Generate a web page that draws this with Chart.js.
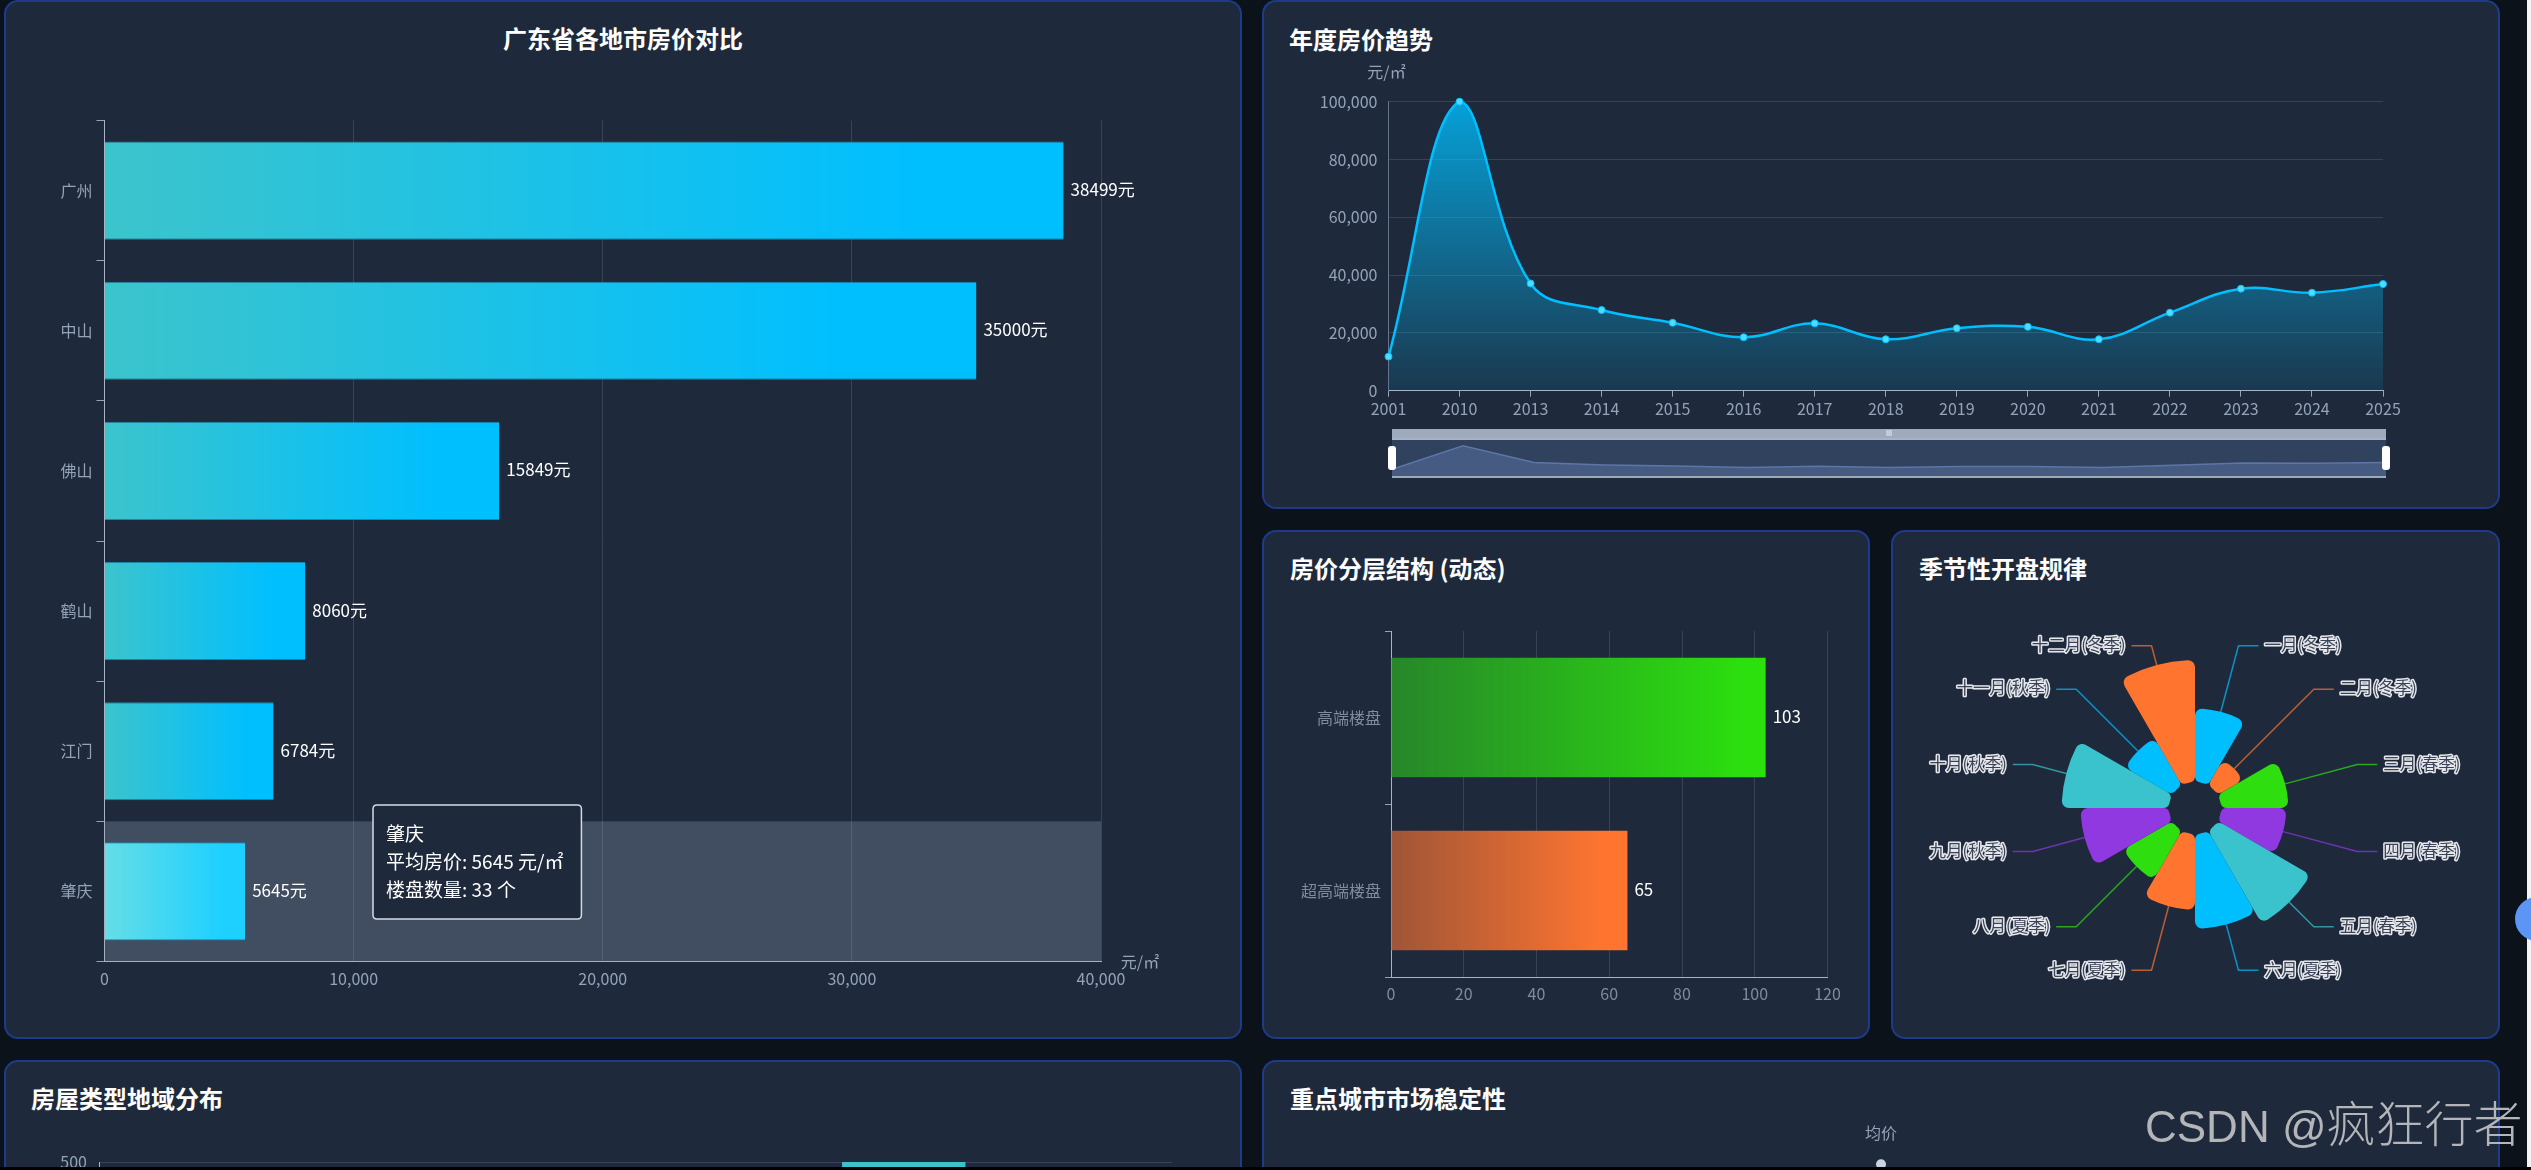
<!DOCTYPE html>
<html lang="zh-CN">
<head>
<meta charset="utf-8">
<title>广东省房价看板</title>
<script src="https://cdn.jsdelivr.net/npm/chart.js@4/dist/chart.umd.js"></script>
<style>
    html, body { margin: 0; width: 2531px; height: 1170px; overflow: hidden; background: #0b1219; }
    body { position: relative; font-family: "Noto Sans CJK SC", sans-serif; }
    .panel { position: absolute; box-sizing: border-box; background: #1e293b; border: 2px solid #1e3a8a; border-radius: 14px; }
    .title { position: absolute; color: #fff; font-size: 24px; font-weight: 700; line-height: 32px; white-space: nowrap; }
    canvas { position: absolute; }
    .slider-part { position: absolute; }
    .mark { position: absolute; }
</style>
</head>
<body>
<div class="panel" style="left:4px;top:0;width:1238px;height:1039px"></div>
<div class="panel" style="left:1262px;top:0;width:1238px;height:509px"></div>
<div class="panel" style="left:1262px;top:530px;width:608px;height:509px"></div>
<div class="panel" style="left:1891px;top:530px;width:609px;height:509px"></div>
<div class="panel" style="left:4px;top:1060px;width:1238px;height:160px"></div>
<div class="panel" style="left:1262px;top:1060px;width:1238px;height:160px"></div>

<div class="title" style="left:4px;width:1238px;text-align:center;top:22px">广东省各地市房价对比</div>
<div class="title" style="left:1289px;top:23px">年度房价趋势</div>
<div class="title" style="left:1290px;top:552px">房价分层结构 (动态)</div>
<div class="title" style="left:1919px;top:552px">季节性开盘规律</div>
<div class="title" style="left:31px;top:1082px">房屋类型地域分布</div>
<div class="title" style="left:1290px;top:1082px">重点城市市场稳定性</div>

<canvas id="cityChart" style="left:4px;top:0" width="1238" height="1039"></canvas>
<canvas id="trendChart" style="left:1262px;top:0" width="1238" height="429"></canvas>
<canvas id="tierChart" style="left:1262px;top:530px" width="608" height="509"></canvas>
<canvas id="seasonChart" style="left:1891px;top:530px" width="609" height="509"></canvas>
<canvas id="typeChart" style="left:4px;top:1060px" width="1238" height="400"></canvas>
<canvas id="stabilityChart" style="left:1262px;top:1063px" width="1238" height="500"></canvas>

<!-- data zoom slider frame -->
<div class="slider-part" style="left:1392px;top:429px;width:994px;height:10px;background:#a0aabd"></div>
<div class="slider-part" style="left:1392px;top:438px;width:994px;height:40px;box-sizing:border-box;background:#31425f;border-top:2px solid #aab3c5;border-bottom:2px solid #a0aabd"></div>
<canvas id="sliderChart" style="left:1392px;top:440px" width="994" height="36"></canvas>
<div class="slider-part" style="left:1388px;top:446px;width:8px;height:24px;border-radius:3px;background:#fff"></div>
<div class="slider-part" style="left:2382px;top:446px;width:8px;height:24px;border-radius:3px;background:#fff"></div>
<div class="slider-part" style="left:1879px;top:429px;width:20px;height:9px;color:#fff;font-size:7px;line-height:9px;text-align:center">III</div>

<!-- page furniture from the screenshot -->
<div class="mark" style="left:2527px;top:0;width:4px;height:1170px;background:#f4f4f4"></div>
<div class="mark" style="left:2515px;top:897px;width:44px;height:44px;border-radius:50%;background:#5b96f7"></div>
<div class="mark" style="left:0;top:1167px;width:2531px;height:3px;background:#000"></div>
<div class="mark" style="left:2145px;top:1086px;white-space:nowrap;color:#b3b5b9;line-height:70px;font-size:44px;font-family:'Liberation Sans',sans-serif">CSDN @<span style="font-size:49px;font-family:'Noto Sans CJK SC',sans-serif;font-weight:300">疯狂行者</span></div>

<script>
// Chart values
const cityNames = ['广州', '中山', '佛山', '鹤山', '江门', '肇庆'];
const cityPrices = [38499, 35000, 15849, 8060, 6784, 5645];
const cityTicks = [0, 10000, 20000, 30000, 40000];
const highlightCity = 5;
const highlightProjects = 33;

const trendYears = ['2001', '2010', '2013', '2014', '2015', '2016', '2017', '2018', '2019', '2020', '2021', '2022', '2023', '2024', '2025'];
const trendPrices = [11800, 100000, 37100, 27900, 23500, 18500, 23300, 17800, 21600, 22100, 17800, 27000, 35300, 33900, 36900];

const tierNames = ['高端楼盘', '超高端楼盘'];
const tierCounts = [103, 65];

const monthNames = ['一月(冬季)', '二月(冬季)', '三月(春季)', '四月(春季)', '五月(春季)', '六月(夏季)', '七月(夏季)', '八月(夏季)', '九月(秋季)', '十月(秋季)', '十一月(秋季)', '十二月(冬季)'];
const monthCounts = [35, 14, 32, 31, 51, 45, 36, 27, 42, 51, 26, 58];
const monthColors = ['#00bfff', '#ff7530', '#2ede0e', '#9039e0', '#3bc3cd', '#00bfff', '#ff7530', '#2ede0e', '#9039e0', '#3bc3cd', '#00bfff', '#ff7530'];

// Only the top of these two charts is inside the screenshot
const typeCities = ['广州', '中山', '佛山', '鹤山', '江门', '肇庆'];
const typeCounts = [null, null, null, null, 500, null];
const stabilityAxes = ['均价', '', '', '', ''];
const stabilityValues = [100, null, null, null, null];

const tickColor = '#94a3b8';
const gridColor = 'rgba(148, 163, 184, 0.22)';

Chart.defaults.font.family = '"Noto Sans CJK SC", sans-serif';
Chart.defaults.font.size = 16;
Chart.defaults.color = tickColor;
Chart.defaults.animation = false;
Chart.defaults.responsive = false;
Chart.defaults.events = [];
Chart.defaults.locale = 'en-US';
Chart.defaults.plugins.legend.display = false;
Chart.defaults.plugins.tooltip.enabled = false;

Chart.Tooltip.positioners.fixedBox = function () {
    return { x: 373, y: 805 };
};

// Per bar gradient running from the axis to the bar end
function barGradient(context, colorFrom, colorTo, stopAt) {
    const chart = context.chart;
    const x0 = chart.scales.x.getPixelForValue(0);
    const x1 = chart.scales.x.getPixelForValue(context.parsed ? context.parsed.x : 0);
    if (!Number.isFinite(x0) || !Number.isFinite(x1) || x0 === x1) {
        return colorTo;
    }
    const gradient = chart.ctx.createLinearGradient(x0, 0, x1, 0);
    gradient.addColorStop(0, colorFrom);
    gradient.addColorStop(stopAt, colorTo);
    gradient.addColorStop(1, colorTo);
    return gradient;
}

// Write value + suffix to the right of every bar
const barLabels = {
    id: 'barLabels',
    afterDatasetsDraw(chart, args, options) {
        const ctx = chart.ctx;
        const values = chart.data.datasets[0].data;
        ctx.save();
        ctx.fillStyle = '#fff';
        ctx.font = '17px "Noto Sans CJK SC", sans-serif';
        ctx.textBaseline = 'middle';
        chart.getDatasetMeta(0).data.forEach((bar, i) => {
            ctx.fillText(values[i] + options.suffix, bar.x + 7, bar.y - 1);
        });
        ctx.restore();
    }
};

// Unit text next to an axis end
const axisName = {
    id: 'axisName',
    afterDraw(chart, args, options) {
        const ctx = chart.ctx;
        ctx.save();
        ctx.fillStyle = tickColor;
        ctx.font = '16px "Noto Sans CJK SC", sans-serif';
        ctx.textAlign = 'center';
        ctx.textBaseline = 'middle';
        ctx.fillText(options.text, chart.chartArea[options.side] + options.dx, chart.chartArea[options.edge] + options.dy);
        ctx.restore();
    }
};

// Shadow band behind the hovered category
const hoverBand = {
    id: 'hoverBand',
    beforeDatasetsDraw(chart) {
        const y = chart.scales.y;
        const band = (y.bottom - y.top) / cityNames.length;
        const center = y.getPixelForValue(highlightCity);
        chart.ctx.save();
        chart.ctx.fillStyle = 'rgba(148, 163, 184, 0.3)';
        chart.ctx.fillRect(y.right, center - band / 2, chart.chartArea.width, band);
        chart.ctx.restore();
    }
};

// Open a hole in the polar area, the library always starts arcs at radius 0
const roseHole = {
    id: 'roseHole',
    beforeDatasetsDraw(chart, args, options) {
        chart.getDatasetMeta(0).data.forEach(arc => {
            arc.innerRadius = options.radius;
        });
    }
};

// Leader lines and month labels around the rose
const roseLabels = {
    id: 'roseLabels',
    afterDatasetsDraw(chart, args, options) {
        const ctx = chart.ctx;
        ctx.save();
        ctx.font = '16.5px "Noto Sans CJK SC", sans-serif';
        ctx.textBaseline = 'middle';
        ctx.lineJoin = 'round';
        chart.getDatasetMeta(0).data.forEach((arc, i) => {
            const mid = (arc.startAngle + arc.endAngle) / 2;
            const cos = Math.cos(mid);
            const sin = Math.sin(mid);
            const side = cos >= 0 ? 1 : -1;
            const elbowX = arc.x + options.elbow * cos;
            const elbowY = arc.y + options.elbow * sin;

            ctx.beginPath();
            ctx.moveTo(arc.x + arc.outerRadius * cos, arc.y + arc.outerRadius * sin);
            ctx.lineTo(elbowX, elbowY);
            ctx.lineTo(elbowX + side * 20, elbowY);
            ctx.strokeStyle = monthColors[i];
            ctx.globalAlpha = 0.7;
            ctx.lineWidth = 1.5;
            ctx.stroke();
            ctx.globalAlpha = 1;

            ctx.textAlign = side > 0 ? 'left' : 'right';
            ctx.strokeStyle = '#e6e8ec';
            ctx.lineWidth = 3;
            ctx.strokeText(monthNames[i], elbowX + side * 26, elbowY - 1);
            ctx.fillStyle = '#3b4456';
            ctx.fillText(monthNames[i], elbowX + side * 26, elbowY - 1);
        });
        ctx.restore();
    }
};

// Plot area in canvas pixels, axes get a fixed size so it lands on the same place
function plotBox(canvasHeight, left, bottom) {
    return {
        yFit: scale => { scale.width = left; },
        xFit: scale => { scale.height = canvasHeight - bottom; }
    };
}

// Gauge of prices per city
function createCityChart() {
    const box = plotBox(1039, 100.5, 961.5);
    const chart = new Chart(document.getElementById('cityChart'), {
        type: 'bar',
        data: {
            labels: cityNames,
            datasets: [{
                data: cityPrices,
                categoryPercentage: 0.7,
                barPercentage: 1,
                borderWidth: { top: 1, bottom: 1 },
                borderColor: '#1c87ab',
                backgroundColor: context => context.dataIndex === highlightCity
                    ? barGradient(context, '#66dde6', '#1dd0ff', 0.85)
                    : barGradient(context, '#3cc4cc', '#00bfff', 0.85)
            }]
        },
        options: {
            indexAxis: 'y',
            layout: { padding: { top: 120.5, right: 141 } },
            scales: {
                x: {
                    min: 0,
                    max: 40000,
                    afterFit: box.xFit,
                    afterBuildTicks: scale => { scale.ticks = cityTicks.map(value => ({ value })); },
                    grid: { color: gridColor, drawTicks: false },
                    border: { color: '#a9b4c4' },
                    ticks: { padding: 8 }
                },
                y: {
                    afterFit: box.yFit,
                    grid: { drawOnChartArea: false, tickColor: tickColor, tickLength: 8 },
                    border: { color: '#a9b4c4' },
                    ticks: { padding: 4 }
                }
            },
            plugins: {
                barLabels: { suffix: '元' },
                axisName: { text: '元/㎡', side: 'right', edge: 'bottom', dx: 39, dy: 0 },
                tooltip: {
                    position: 'fixedBox',
                    xAlign: 'left',
                    yAlign: 'top',
                    caretSize: 0,
                    caretPadding: 0,
                    displayColors: false,
                    backgroundColor: '#1e293b',
                    borderColor: '#d5dbe4',
                    borderWidth: 1.5,
                    cornerRadius: 4,
                    padding: { top: 15, bottom: 15, left: 13, right: 18 },
                    titleMarginBottom: 0,
                    bodySpacing: 0,
                    titleColor: '#fff',
                    bodyColor: '#fff',
                    titleFont: { size: 19, weight: 'normal', lineHeight: 1.474 },
                    bodyFont: { size: 19, lineHeight: 1.474 },
                    callbacks: {
                        label: item => `平均房价: ${item.raw} 元/㎡`,
                        afterLabel: () => `楼盘数量: ${highlightProjects} 个`
                    }
                }
            }
        },
        plugins: [hoverBand, barLabels, axisName]
    });

    chart.options.plugins.tooltip.enabled = true;
    chart.update();
    chart.tooltip.setActiveElements([{ datasetIndex: 0, index: highlightCity }], { x: 0, y: 0 });
    chart.render();
}

// Yearly trend line
function createTrendChart() {
    const box = plotBox(429, 126.5, 390.7);
    new Chart(document.getElementById('trendChart'), {
        type: 'line',
        data: {
            labels: trendYears,
            datasets: [{
                data: trendPrices,
                borderColor: '#00bfff',
                borderWidth: 2.5,
                tension: 0.4,
                clip: false,
                pointRadius: 3.5,
                pointBackgroundColor: '#4fdcff',
                pointBorderColor: '#00bfff',
                pointBorderWidth: 1,
                fill: 'origin',
                backgroundColor: context => {
                    const area = context.chart.chartArea;
                    if (!area) {
                        return 'rgba(0, 191, 255, 0.3)';
                    }
                    const gradient = context.chart.ctx.createLinearGradient(0, area.top, 0, area.bottom);
                    gradient.addColorStop(0, 'rgba(0, 191, 255, 0.8)');
                    gradient.addColorStop(1, 'rgba(0, 191, 255, 0.1)');
                    return gradient;
                }
            }]
        },
        options: {
            layout: { padding: { top: 101.7, right: 117 } },
            scales: {
                x: {
                    afterFit: box.xFit,
                    grid: { drawOnChartArea: false, tickColor: tickColor, tickLength: 6 },
                    border: { color: '#a9b4c4' },
                    ticks: { padding: 3, autoSkip: false, maxRotation: 0 }
                },
                y: {
                    min: 0,
                    max: 100000,
                    afterFit: box.yFit,
                    grid: { color: gridColor, drawTicks: false },
                    border: { color: '#64748b' },
                    ticks: { stepSize: 20000, padding: 11 }
                }
            },
            plugins: {
                axisName: { text: '元/㎡', side: 'left', edge: 'top', dx: -2, dy: -30 }
            }
        },
        plugins: [axisName]
    });
}

// Miniature of the trend inside the data zoom
function createSliderChart() {
    new Chart(document.getElementById('sliderChart'), {
        type: 'line',
        data: {
            labels: trendYears,
            datasets: [{
                data: trendPrices,
                borderColor: '#5d76a8',
                borderWidth: 1.5,
                backgroundColor: 'rgba(100, 130, 180, 0.4)',
                fill: 'start',
                pointRadius: 0
            }]
        },
        options: {
            scales: {
                x: { display: false },
                y: { display: false, min: -14000, max: 122000 }
            }
        }
    });
}

// Price tier bars
function createTierChart() {
    const box = plotBox(509, 129, 447);
    new Chart(document.getElementById('tierChart'), {
        type: 'bar',
        data: {
            labels: tierNames,
            datasets: [{
                data: tierCounts,
                categoryPercentage: 0.69,
                barPercentage: 1,
                backgroundColor: context => context.dataIndex === 0
                    ? barGradient(context, '#27862a', '#2ce00e', 0.95)
                    : barGradient(context, '#9f5537', '#ff7530', 0.9)
            }]
        },
        options: {
            indexAxis: 'y',
            layout: { padding: { top: 101, right: 42.5 } },
            scales: {
                x: {
                    min: 0,
                    max: 120,
                    afterFit: box.xFit,
                    grid: { color: gridColor, drawTicks: false },
                    border: { color: '#a9b4c4' },
                    ticks: { stepSize: 20, padding: 7, color: '#7f8b9e' }
                },
                y: {
                    afterFit: box.yFit,
                    grid: { drawOnChartArea: false, tickColor: tickColor, tickLength: 6 },
                    border: { color: '#a9b4c4' },
                    ticks: { padding: 4, color: '#7f8b9e' }
                }
            },
            plugins: {
                barLabels: { suffix: '' }
            }
        },
        plugins: [barLabels]
    });
}

// Monthly openings as a rose
function createSeasonChart() {
    new Chart(document.getElementById('seasonChart'), {
        type: 'polarArea',
        data: {
            labels: monthNames,
            datasets: [{
                data: monthCounts,
                backgroundColor: monthColors,
                borderWidth: 0,
                borderRadius: 7
            }]
        },
        options: {
            layout: { padding: { top: 130, bottom: 83, left: 156.5, right: 156.5 } },
            scales: {
                r: {
                    display: false,
                    min: -12.36,
                    max: 58
                }
            },
            plugins: {
                roseHole: { radius: 26 },
                roseLabels: { elbow: 168 }
            }
        },
        plugins: [roseHole, roseLabels]
    });
}

// Building type distribution, only the 500 line is on screen
function createTypeChart() {
    const box = plotBox(400, 95, 380);
    new Chart(document.getElementById('typeChart'), {
        type: 'bar',
        data: {
            labels: typeCities,
            datasets: [{
                data: typeCounts,
                categoryPercentage: 0.69,
                barPercentage: 1,
                backgroundColor: '#3bc3cd'
            }]
        },
        options: {
            layout: { padding: { top: 102, right: 70 } },
            scales: {
                x: {
                    afterFit: box.xFit,
                    grid: { display: false }
                },
                y: {
                    min: 0,
                    max: 500,
                    afterFit: box.yFit,
                    grid: { color: gridColor, drawTicks: false },
                    border: { color: '#a9b4c4' },
                    ticks: { stepSize: 500, padding: 12 }
                }
            }
        }
    });
}

// Market stability radar, only its top axis is on screen
function createStabilityChart() {
    new Chart(document.getElementById('stabilityChart'), {
        type: 'radar',
        data: {
            labels: stabilityAxes,
            datasets: [{
                data: stabilityValues,
                pointRadius: 5,
                pointBackgroundColor: '#cbd5e1',
                pointBorderWidth: 0,
                borderWidth: 0
            }]
        },
        options: {
            layout: { padding: { top: 40 } },
            scales: {
                r: {
                    min: 0,
                    max: 100,
                    grid: { display: false },
                    angleLines: { display: false },
                    ticks: { display: false },
                    pointLabels: { color: tickColor, padding: 22, font: { size: 16 } }
                }
            }
        }
    });
}

createCityChart();
createTrendChart();
createSliderChart();
createTierChart();
createSeasonChart();
createTypeChart();
createStabilityChart();
</script>
</body>
</html>
